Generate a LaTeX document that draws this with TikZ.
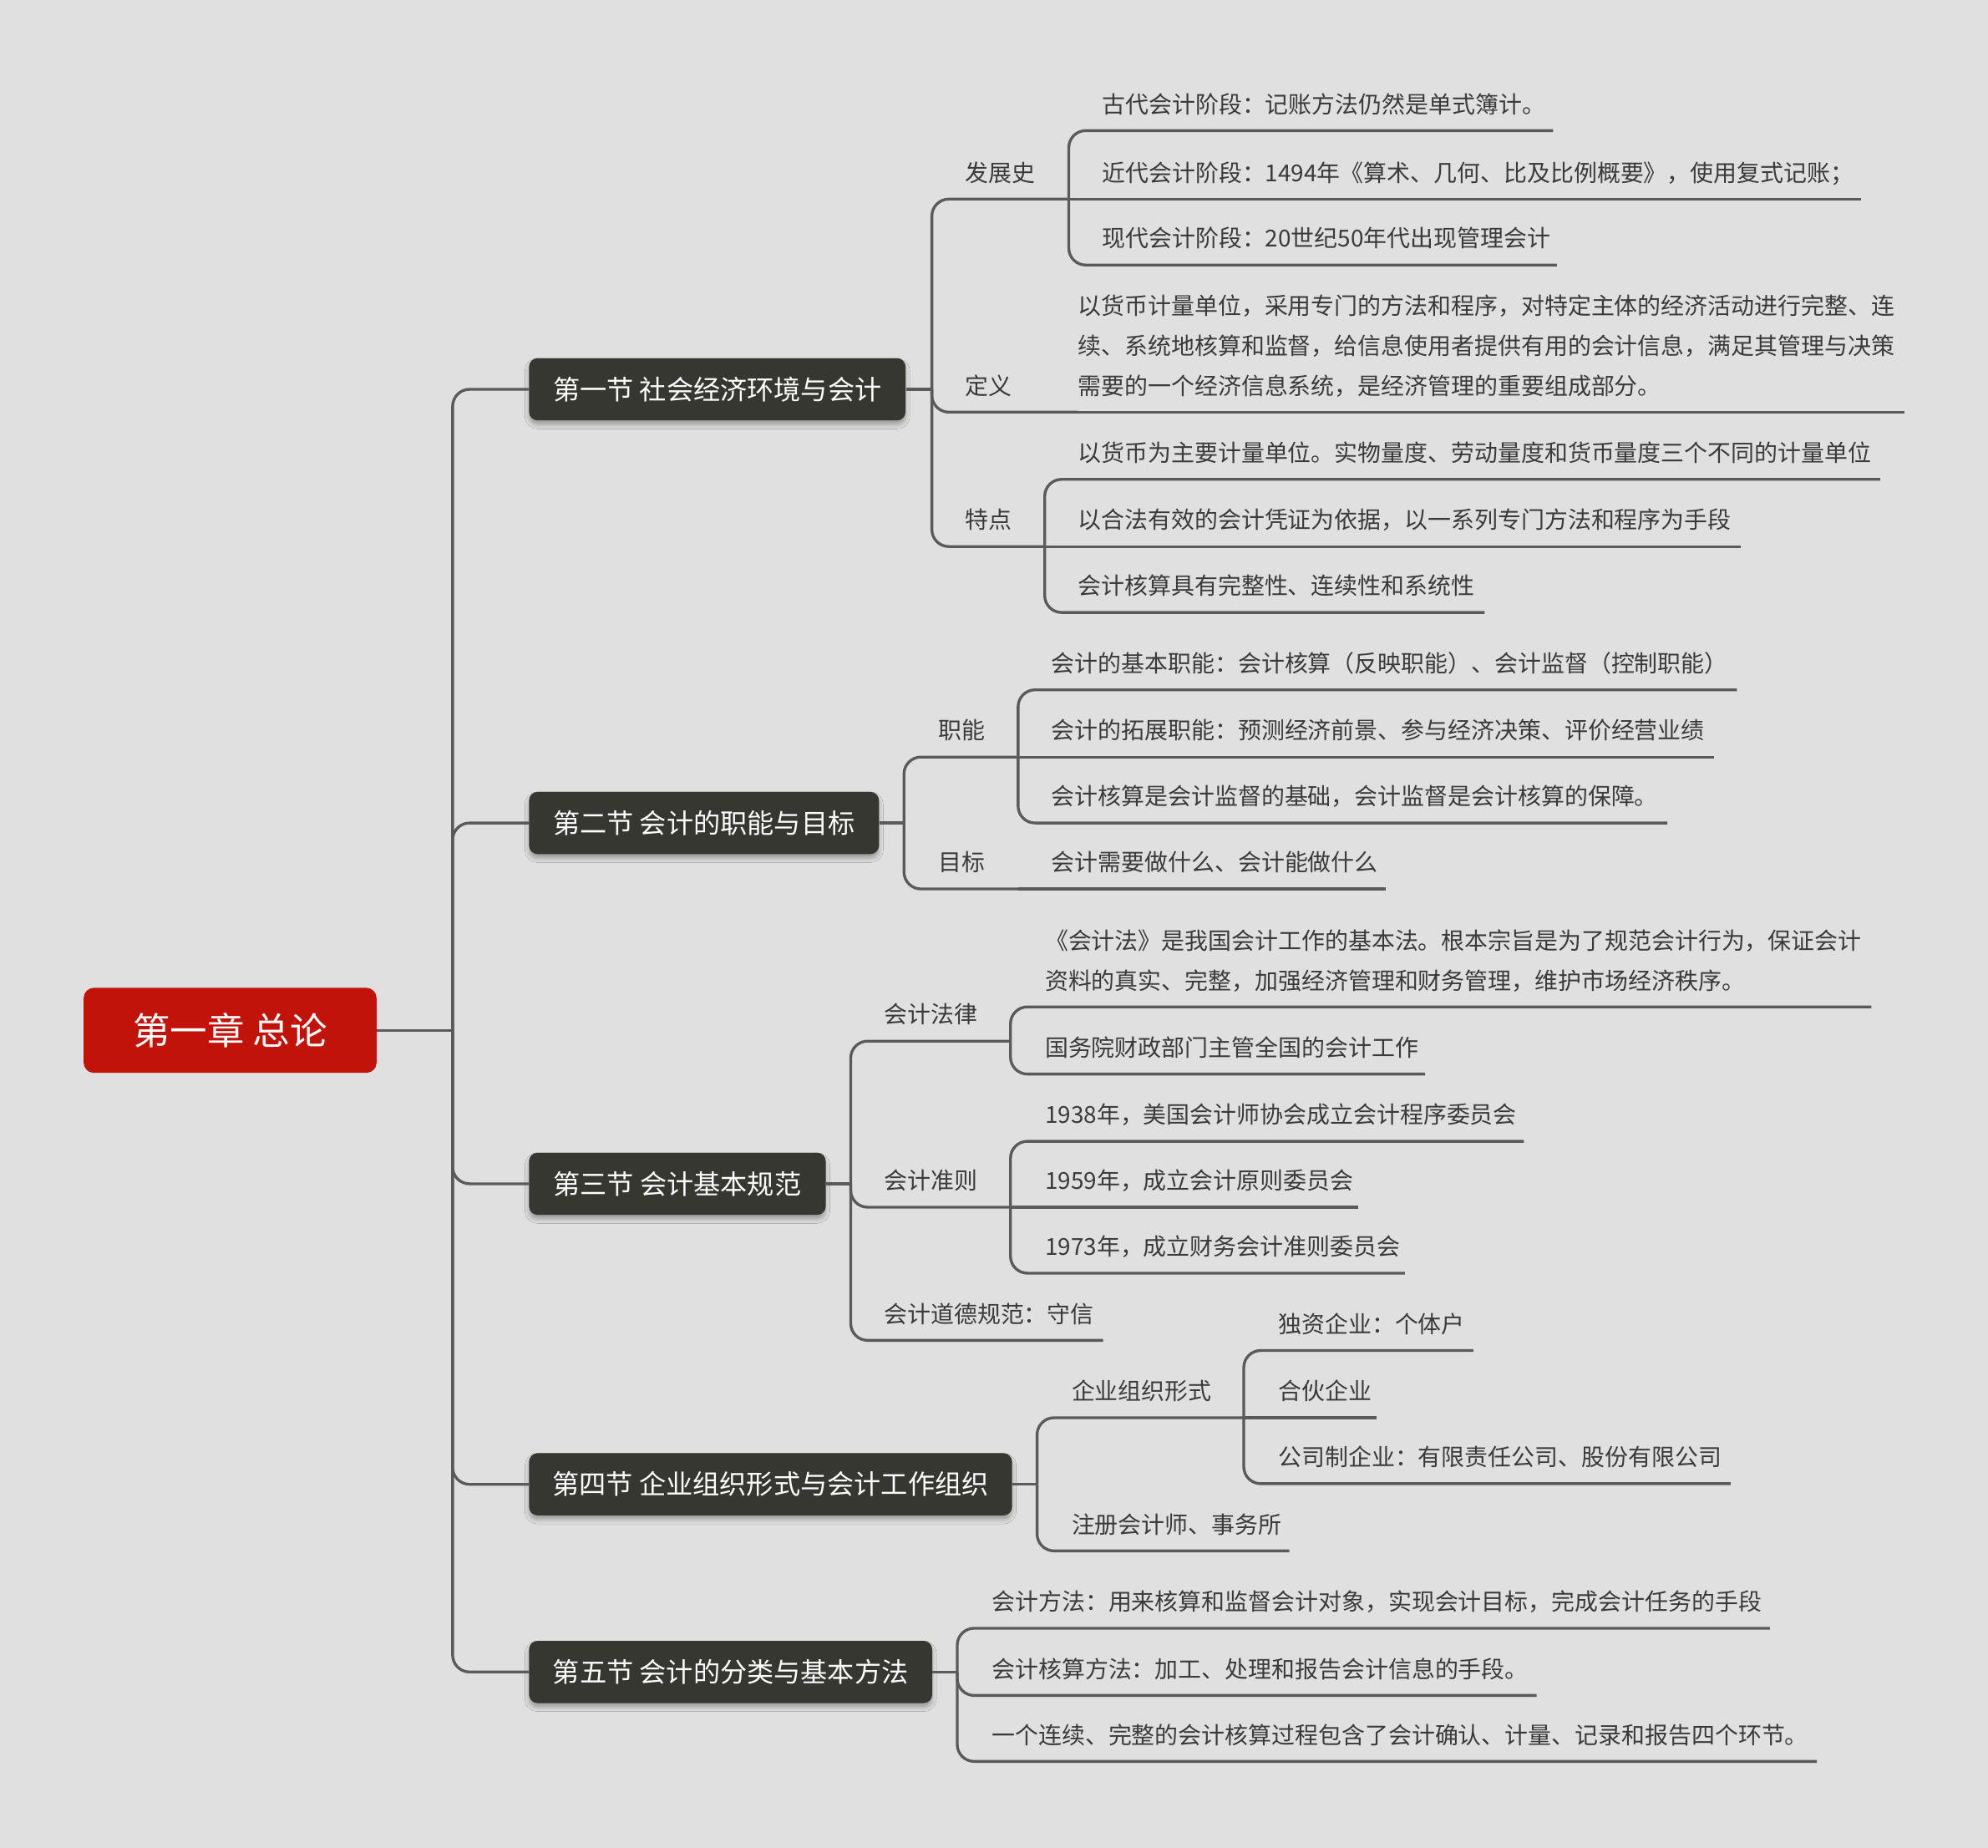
\documentclass[tikz,border=0pt]{standalone}
\usepackage{fontspec}
\setmainfont{Noto Sans CJK SC}
\usetikzlibrary{shadows.blur}
\definecolor{bgc}{HTML}{E0E0E0}
\definecolor{lnc}{HTML}{5A5A5A}
\definecolor{txc}{HTML}{3A3A3A}
\definecolor{boxc}{HTML}{373732}
\definecolor{redc}{HTML}{C2130A}
\begin{document}
\begin{tikzpicture}[x=0.75pt,y=-0.75pt,
  conn/.style={draw=lnc,line width=1.65pt,rounded corners=10pt},
  lbl/.style={anchor=base west,inner sep=0pt,text=txc,font=\fontsize{13.8pt}{23.6pt}\selectfont},
  mlbl/.style={anchor=west,inner sep=0pt,text=txc,align=left,font=\fontsize{13.8pt}{23.6pt}\selectfont},
  sec/.style={anchor=west,fill=boxc,rounded corners=5pt,text=white,inner sep=0pt,minimum height=36.75pt,
    font=\fontsize{15.9pt}{18pt}\selectfont,
    blur shadow={shadow xshift=0pt,shadow yshift=-2.5pt,shadow blur radius=2.5pt,shadow opacity=30}},
  rootbox/.style={fill=redc,rounded corners=6pt,text=white,inner sep=0pt,minimum width=173.25pt,minimum height=50.25pt,
    font=\fontsize{22pt}{24pt}\selectfont}]
\fill[bgc] (0,0) rectangle (1568,1457);
\useasboundingbox (0,0) rectangle (1568,1457);

% root
\node[rootbox] (root) at (181.5,812.5) {第一章 总论};
\coordinate (T) at (357,812.5);
\draw[conn] (root.east) -- (T);

% sections
\node[sec,minimum width=222.75pt] (s1) at (417,307) {第一节 社会经济环境与会计};
\node[sec,minimum width=207pt] (s2) at (417,649) {第二节 会计的职能与目标};
\node[sec,minimum width=175.5pt] (s3) at (417,933.5) {第三节 会计基本规范};
\node[sec,minimum width=285.75pt] (s4) at (417,1170.5) {第四节 企业组织形式与会计工作组织};
\node[sec,minimum width=238.5pt] (s5) at (417,1318.5) {第五节 会计的分类与基本方法};
\foreach \s in {s1,s2,s3,s4,s5}{\draw[conn] (T) |- (\s.west);}

% ---------- section 1 ----------
\coordinate (v1) at (735,307);
\draw[conn] (s1.east) -- (v1);
\node[lbl] (fz) at (761,143) {发展史};
\coordinate (b1) at (843,157);
\draw[conn] (v1) -- (735,157) -- (b1);
\node[lbl] (gd) at (869,89) {古代会计阶段：记账方法仍然是单式簿计。};
\node[lbl] (jd) at (869,143) {近代会计阶段：1494年《算术、几何、比及比例概要》，使用复式记账；};
\node[lbl] (xd) at (869,195) {现代会计阶段：20世纪50年代出现管理会计};
\draw[conn] (b1) -- (843,103) -- (1225,103);
\draw[conn] (b1) -- (1468,157);
\draw[conn] (b1) -- (843,209) -- (1228,209);

\node[lbl] (dy) at (761,311) {定义};
\coordinate (dye) at (850,325);
\draw[conn] (v1) -- (735,325) -- (dye);
\node[mlbl] (dyt) at (850,273) {以货币计量单位，采用专门的方法和程序，对特定主体的经济活动进行完整、连\\续、系统地核算和监督，给信息使用者提供有用的会计信息，满足其管理与决策\\需要的一个经济信息系统，是经济管理的重要组成部分。};
\draw[conn] (dye) -- (1502,325);

\node[lbl] (td) at (761,417) {特点};
\coordinate (b2) at (824,431);
\draw[conn] (v1) -- (735,431) -- (b2);
\node[lbl] (td1) at (850,364) {以货币为主要计量单位。实物量度、劳动量度和货币量度三个不同的计量单位};
\node[lbl] (td2) at (850,417) {以合法有效的会计凭证为依据，以一系列专门方法和程序为手段};
\node[lbl] (td3) at (850,469) {会计核算具有完整性、连续性和系统性};
\draw[conn] (b2) -- (824,378) -- (1483,378);
\draw[conn] (b2) -- (1373,431);
\draw[conn] (b2) -- (824,483) -- (1171,483);

% ---------- section 2 ----------
\coordinate (v2) at (713,649);
\draw[conn] (s2.east) -- (v2);
\node[lbl] (zn) at (740,583) {职能};
\coordinate (b3) at (803,597);
\draw[conn] (v2) -- (713,597) -- (b3);
\node[lbl] (zn1) at (829,530) {会计的基本职能：会计核算（反映职能）、会计监督（控制职能）};
\node[lbl] (zn2) at (829,583) {会计的拓展职能：预测经济前景、参与经济决策、评价经营业绩};
\node[lbl] (zn3) at (829,635) {会计核算是会计监督的基础，会计监督是会计核算的保障。};
\draw[conn] (b3) -- (803,544) -- (1370,544);
\draw[conn] (b3) -- (1352,597);
\draw[conn] (b3) -- (803,649) -- (1315,649);
\node[lbl] (mb) at (740,687) {目标};
\coordinate (mbe) at (803,701);
\draw[conn] (v2) -- (713,701) -- (mbe);
\node[lbl] (mb1) at (829,687) {会计需要做什么、会计能做什么};
\draw[conn] (mbe) -- (1093,701);

% ---------- section 3 ----------
\coordinate (v3) at (671,933.5);
\draw[conn] (s3.east) -- (v3);
\node[lbl] (fl) at (697,807) {会计法律};
\coordinate (b4) at (797,821);
\draw[conn] (v3) -- (671,821) -- (b4);
\node[mlbl] (fl1) at (824,757.5) {《会计法》是我国会计工作的基本法。根本宗旨是为了规范会计行为，保证会计\\资料的真实、完整，加强经济管理和财务管理，维护市场经济秩序。};
\node[lbl] (fl2) at (824,833) {国务院财政部门主管全国的会计工作};
\draw[conn] (b4) -- (797,794) -- (1476,794);
\draw[conn] (b4) -- (797,847) -- (1124,847);
\node[lbl] (zz) at (697,938) {会计准则};
\coordinate (b5) at (797,952);
\draw[conn] (v3) -- (671,952) -- (b5);
\node[lbl] (zz1) at (824,886) {1938年，美国会计师协会成立会计程序委员会};
\node[lbl] (zz2) at (824,938) {1959年，成立会计原则委员会};
\node[lbl] (zz3) at (824,990) {1973年，成立财务会计准则委员会};
\draw[conn] (b5) -- (797,900) -- (1202,900);
\draw[conn] (b5) -- (1071,952);
\draw[conn] (b5) -- (797,1004) -- (1108,1004);
\node[lbl] (dd) at (697,1043) {会计道德规范：守信};
\draw[conn] (v3) -- (671,1057) -- (870,1057);

% ---------- section 4 ----------
\coordinate (v4) at (818,1170.5);
\draw[conn] (s4.east) -- (v4);
\node[lbl] (zx) at (845,1104) {企业组织形式};
\coordinate (b6) at (981,1118);
\draw[conn] (v4) -- (818,1118) -- (b6);
\node[lbl] (zx1) at (1008,1051) {独资企业：个体户};
\node[lbl] (zx2) at (1008,1104) {合伙企业};
\node[lbl] (zx3) at (1008,1156) {公司制企业：有限责任公司、股份有限公司};
\draw[conn] (b6) -- (981,1065) -- (1162,1065);
\draw[conn] (b6) -- (1086,1118);
\draw[conn] (b6) -- (981,1170) -- (1365,1170);
\node[lbl] (zc) at (845,1209) {注册会计师、事务所};
\draw[conn] (v4) -- (818,1223) -- (1017,1223);

% ---------- section 5 ----------
\coordinate (v5) at (755,1318.5);
\draw[conn] (s5.east) -- (v5);
\node[lbl] (ff1) at (782,1270) {会计方法：用来核算和监督会计对象，实现会计目标，完成会计任务的手段};
\node[lbl] (ff2) at (782,1323) {会计核算方法：加工、处理和报告会计信息的手段。};
\node[lbl] (ff3) at (782,1375) {一个连续、完整的会计核算过程包含了会计确认、计量、记录和报告四个环节。};
\draw[conn] (v5) -- (755,1284) -- (1396,1284);
\draw[conn] (v5) -- (755,1337) -- (1212,1337);
\draw[conn] (v5) -- (755,1389) -- (1433,1389);
\end{tikzpicture}
\end{document}
